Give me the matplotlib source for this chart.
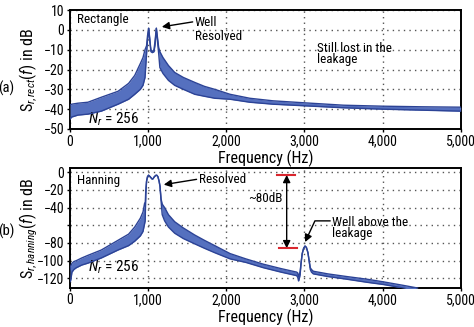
import matplotlib
matplotlib.use("Agg")
import matplotlib.pyplot as plt
from matplotlib import font_manager

# ---------------- data ----------------
# Panel (a): rectangular window spectrum, upper / lower edges of the ripple band (dB)
freq_a = [0, 20, 100, 230, 400, 614, 750, 828, 900, 934, 960, 980, 992, 1007,
          1022, 1035, 1054, 1075, 1090, 1105, 1120, 1135, 1150, 1190, 1260,
          1340, 1450, 1596, 1720, 1852, 2048, 2300, 2600, 3000, 3500, 4000,
          4500, 5000]
upper_a = [-38, -37.5, -37, -36.5, -34, -31, -27, -23, -17, -14, -10, -8, -3,
           0.8, -5, -10, -11, -10, -5, 0.8, -4, -9, -11, -14, -18, -21.5, -24,
           -26.5, -28.5, -30, -32.5, -34.5, -35.8, -36.8, -38, -38.5, -38.8, -39]
lower_a = [-45, -44, -43, -42.5, -41, -37.5, -35, -32.5, -30, -28, -24, -12,
           -5, 0.8, -6, -11, -11.5, -11, -7, 0.8, -6, -12, -19, -22, -25.5, -28,
           -30, -32.5, -33.5, -34.5, -35, -36.5, -37.5, -38.3, -39.3, -40,
           -40.5, -41]

# Panel (b): Hanning window spectrum
freq_b = [0, 10, 25, 50, 81, 150, 230, 400, 614, 750, 828, 900, 934, 955, 962,
          970, 980, 992, 1005, 1025, 1050, 1060, 1080, 1098, 1110, 1125, 1140,
          1152, 1165, 1180, 1211, 1260, 1340, 1450, 1596, 1720, 1852, 2048,
          2250, 2474, 2700, 2901, 2915, 2925, 2935, 2945, 2958, 2972, 2990,
          3008, 3025, 3045, 3060, 3075, 3090, 3114, 3300, 3541, 3800, 4010,
          4266, 4450]
upper_b = [-110, -106, -103, -101, -100, -97, -94, -88, -77, -70, -62, -52,
           -45, -35, -38, -20, -10, -5, -3.3, -5, -7.6, -7.6, -5, -3.5, -3.3,
           -5, -10, -16, -30, -36, -40, -48, -56, -63, -71, -77, -83, -92, -98,
           -104, -109, -113, -114, -118, -116, -112, -102, -92, -86, -83.5, -85,
           -91, -100, -108, -110, -112, -115, -118, -121, -124, -128, -131]
lower_b = [-124, -122, -113, -110, -108, -105, -102.8, -97, -88, -83, -78,
           -72, -67, -58, -55, -25, -10, -5, -3.3, -5, -7.6, -7.6, -5, -3.5,
           -3.3, -5, -10, -16, -32, -48, -55, -62, -69, -75, -81, -86, -91,
           -98, -102, -108, -113, -117, -119, -123, -120, -116, -102, -92, -86,
           -83.5, -85, -91, -100, -110, -113, -115, -118, -121, -124.5, -127,
           -131, -134]

x_ticks = [0, 1000, 2000, 3000, 4000, 5000]
x_tick_labels = ["0", "1,000", "2,000", "3,000", "4,000", "5,000"]
y_ticks_a = [10, 0, -10, -20, -30, -40, -50]
y_tick_labels_a = ["10", "0", "\u221210", "\u221220", "\u221230", "\u221240", "\u221250"]
y_ticks_b = [0, -20, -40, -60, -80, -100, -120]
y_tick_labels_b = ["0", "\u221220", "\u221240", "", "\u221280", "\u2212100", "\u2212120"]

# ---------------- style ----------------
names = {f.name for f in font_manager.fontManager.ttflist}
narrow = None
for cand in ["Liberation Sans Narrow", "Arial Narrow", "Nimbus Sans Narrow",
             "Roboto Condensed", "Open Sans Condensed"]:
    if cand in names:
        narrow = cand
        break
if narrow is None:
    for n in sorted(names):
        if ("Narrow" in n or "Condensed" in n) and "Mono" not in n and "Serif" not in n:
            narrow = n
            break
if narrow is None:
    main_font, k = "Liberation Sans", 0.88
else:
    main_font, k = narrow, 1.0

plt.rcParams["font.family"] = [main_font, "DejaVu Sans"]
plt.rcParams["mathtext.fontset"] = "custom"
plt.rcParams["mathtext.rm"] = main_font
plt.rcParams["mathtext.it"] = main_font + ":italic"
plt.rcParams["mathtext.bf"] = main_font + ":bold"

LINE = "#2c4396"
FILL = "#5570bf"
GRID = "#555555"

W, H = 474, 327
fig = plt.figure(figsize=(W / 100, H / 100), dpi=100)


def px_axes(left, top, right, bottom):
    return fig.add_axes([left / W, 1 - bottom / H, (right - left) / W, (bottom - top) / H])


ax_a = px_axes(70, 10, 460.7, 129)
ax_b = px_axes(70, 168.3, 460.7, 287.5)

TICK = 10 * k
ANN = 9.5 * k
LAB = 11.5 * k


def style(ax, yt, ytl, ylim, ylabel):
    ax.set_xlim(0, 5000)
    ax.set_ylim(*ylim)
    ax.set_xticks(x_ticks)
    ax.set_xticklabels(x_tick_labels)
    ax.set_yticks(yt)
    ax.set_yticklabels(ytl)
    ax.tick_params(axis="both", labelsize=TICK, length=2.5, width=1, pad=1.5, color="black")
    ax.grid(True, linestyle=(0, (1, 3)), color=GRID, linewidth=1)
    for s in ax.spines.values():
        s.set_linewidth(1.4)
    ax.set_xlabel("Frequency (Hz)", fontsize=LAB, labelpad=1)
    ax.set_ylabel(ylabel, fontsize=LAB)
    ax.yaxis.set_label_coords(-0.077, 0.5)


style(ax_a, y_ticks_a, y_tick_labels_a, (-50, 10), r"S$_{r,rect}$($\mathit{f}$) in dB")
style(ax_b, y_ticks_b, y_tick_labels_b, (-130.4, 4.5), r"S$_{r,hanning}$($\mathit{f}$) in dB")

for ax, f, up, lo in [(ax_a, freq_a, upper_a, lower_a), (ax_b, freq_b, upper_b, lower_b)]:
    ax.fill_between(f, lo, up, color=FILL, linewidth=0, zorder=3)
    ax.plot(f, up, color=LINE, lw=1.0, zorder=4)
    ax.plot(f, lo, color=LINE, lw=1.0, zorder=4)

arrow = dict(arrowstyle="-|>", color="black", lw=1.0, mutation_scale=11, shrinkA=0, shrinkB=0)

# ---- panel (a) annotations ----
ax_a.text(90, 5, "Rectangle", fontsize=ANN, va="center", ha="left")
ax_a.text(1600, 3.7, "Well", fontsize=ANN, va="center", ha="left")
ax_a.text(1600, -3.2, "Resolved", fontsize=ANN, va="center", ha="left")
ax_a.annotate("", xy=(1175, 1.5), xytext=(1570, 4), arrowprops=arrow)
ax_a.text(3165, -9.2, "Still lost in the", fontsize=ANN, va="center", ha="left")
ax_a.text(3165, -15.2, "leakage", fontsize=ANN, va="center", ha="left")
ax_a.text(230, -45, r"$N_r$ = 256", fontsize=11 * k, va="center", ha="left")

# ---- panel (b) annotations ----
ax_b.text(90, -9.5, "Hanning", fontsize=ANN, va="center", ha="left")
ax_b.text(1651, -8, "Resolved", fontsize=ANN, va="center", ha="left")
ax_b.annotate("", xy=(1200, -14), xytext=(1620, -8), arrowprops=arrow)
ax_b.text(2282, -29.4, "~80dB", fontsize=ANN, va="center", ha="left")
ax_b.plot([2645, 2880], [-3, -3], color="#d9262e", lw=1.5, zorder=5)
ax_b.plot([2679, 2901], [-86, -86], color="#d9262e", lw=1.5, zorder=5)
ax_b.annotate("", xy=(2773, -86), xytext=(2773, -3),
              arrowprops=dict(arrowstyle="<|-|>", color="black", lw=1.0,
                              mutation_scale=11, shrinkA=0, shrinkB=0))
ax_b.text(3349, -56.5, "Well above the", fontsize=ANN, va="center", ha="left")
ax_b.text(3349, -69.7, "leakage", fontsize=ANN, va="center", ha="left")
ax_b.annotate("", xy=(3008, -79), xytext=(3330, -55),
              arrowprops=dict(arrowstyle="-|>", color="black", lw=1.0,
                              mutation_scale=11, shrinkA=0, shrinkB=0,
                              connectionstyle="angle,angleA=0,angleB=65,rad=0"))
ax_b.text(230, -108, r"$N_r$ = 256", fontsize=11 * k, va="center", ha="left")

# panel letters
fig.text(-2 / W, 1 - 88 / H, "(a)", fontsize=10.5 * k, va="center", ha="left")
fig.text(-2 / W, 1 - 231 / H, "(b)", fontsize=10.5 * k, va="center", ha="left")

fig.savefig("out.png", dpi=100)
